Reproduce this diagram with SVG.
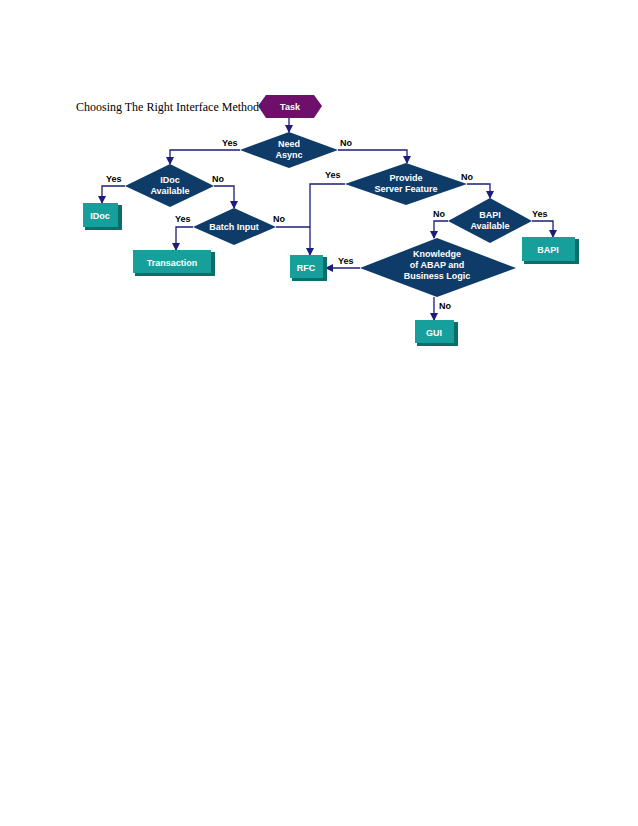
<svg xmlns="http://www.w3.org/2000/svg" width="638" height="826" viewBox="0 0 638 826">
<defs>
<marker id="ah" markerWidth="8" markerHeight="8" refX="7" refY="4" orient="auto" markerUnits="userSpaceOnUse"><path d="M0,0 L8,4 L0,8 Z" fill="#1c1c7a"/></marker>
</defs>
<style>
.d{fill:#0f3b69}
.b{fill:#17a09b}
.s{fill:#0b6e6a}
.w{fill:#fff;font-family:"Liberation Sans",Arial,sans-serif;font-weight:bold;font-size:9px;text-anchor:middle}
.l{fill:#000;font-family:"Liberation Sans",Arial,sans-serif;font-weight:bold;font-size:9px}
.c{fill:none;stroke:#1c1c7a;stroke-width:1.3;marker-end:url(#ah)}
.n{fill:none;stroke:#1c1c7a;stroke-width:1.3}
</style>
<rect width="638" height="826" fill="#fff"/>
<text x="76" y="111" font-family="Liberation Serif,serif" font-size="12">Choosing The Right Interface Method</text>
<g id="connectors">
<path class="c" d="M289,118 V132"/>
<path class="c" d="M240,150 H170 V164"/>
<path class="c" d="M338,150 H407 V163"/>
<path class="c" d="M125,186 H102 V203"/>
<path class="c" d="M214,186 H234 V208"/>
<path class="c" d="M193,227 H176 V250"/>
<path class="n" d="M276,227 H310"/>
<path class="c" d="M345,184 H310 V255"/>
<path class="c" d="M467,184 H490 V198"/>
<path class="c" d="M532,221 H553 V237"/>
<path class="c" d="M448,221 H434 V238"/>
<path class="c" d="M360,268 H326"/>
<path class="c" d="M434,297 V320"/>
<text class="l" x="222" y="146">Yes</text>
<text class="l" x="340" y="146">No</text>
<text class="l" x="106" y="182">Yes</text>
<text class="l" x="212" y="182">No</text>
<text class="l" x="175" y="222">Yes</text>
<text class="l" x="273" y="222">No</text>
<text class="l" x="325" y="178">Yes</text>
<text class="l" x="461" y="180">No</text>
<text class="l" x="433" y="217">No</text>
<text class="l" x="532" y="217">Yes</text>
<text class="l" x="338" y="264">Yes</text>
<text class="l" x="439" y="309">No</text>
</g>
<g id="task"><polygon points="258,106 266,95 314,95 322,106 314,118 266,118" fill="#6e0f6c"/><text class="w" x="290" y="110">Task</text></g>
<g id="needAsync"><polygon class="d" points="289,132 338,150 289,168 240,150"/><text class="w" x="289" y="147">Need</text><text class="w" x="289" y="158">Async</text></g>
<g id="idocAvail"><polygon class="d" points="170,164 214,186 170,207 125,186"/><text class="w" x="170" y="183">IDoc</text><text class="w" x="170" y="194">Available</text></g>
<g id="provide"><polygon class="d" points="406,163 467,184 406,205 345,184"/><text class="w" x="406" y="181">Provide</text><text class="w" x="406" y="192">Server Feature</text></g>
<g id="batch"><polygon class="d" points="234,208 276,227 234,245 193,227"/><text class="w" x="234" y="230">Batch Input</text></g>
<g id="bapiAvail"><polygon class="d" points="490,198 532,221 490,243 448,221"/><text class="w" x="490" y="218">BAPI</text><text class="w" x="490" y="229">Available</text></g>
<g id="knowledge"><polygon class="d" points="437,238 516,268 437,297 360,268"/><text class="w" x="437" y="257">Knowledge</text><text class="w" x="437" y="268">of ABAP and</text><text class="w" x="437" y="279">Business Logic</text></g>
<g id="idoc"><rect class="s" x="85" y="205" width="37" height="25"/><rect class="b" x="83" y="203" width="35" height="24"/><text class="w" x="100" y="219">IDoc</text></g>
<g id="transaction"><rect class="s" x="135" y="252" width="80" height="24"/><rect class="b" x="133" y="250" width="78" height="23"/><text class="w" x="172" y="266" font-size="10">Transaction</text></g>
<g id="rfc"><rect class="s" x="292" y="257" width="35" height="24"/><rect class="b" x="290" y="255" width="33" height="23"/><text class="w" x="306" y="271">RFC</text></g>
<g id="bapi"><rect class="s" x="524" y="239" width="55" height="25"/><rect class="b" x="522" y="237" width="53" height="24"/><text class="w" x="548" y="253">BAPI</text></g>
<g id="gui"><rect class="s" x="417" y="322" width="41" height="24"/><rect class="b" x="415" y="320" width="39" height="23"/><text class="w" x="434" y="336">GUI</text></g>
</svg>
